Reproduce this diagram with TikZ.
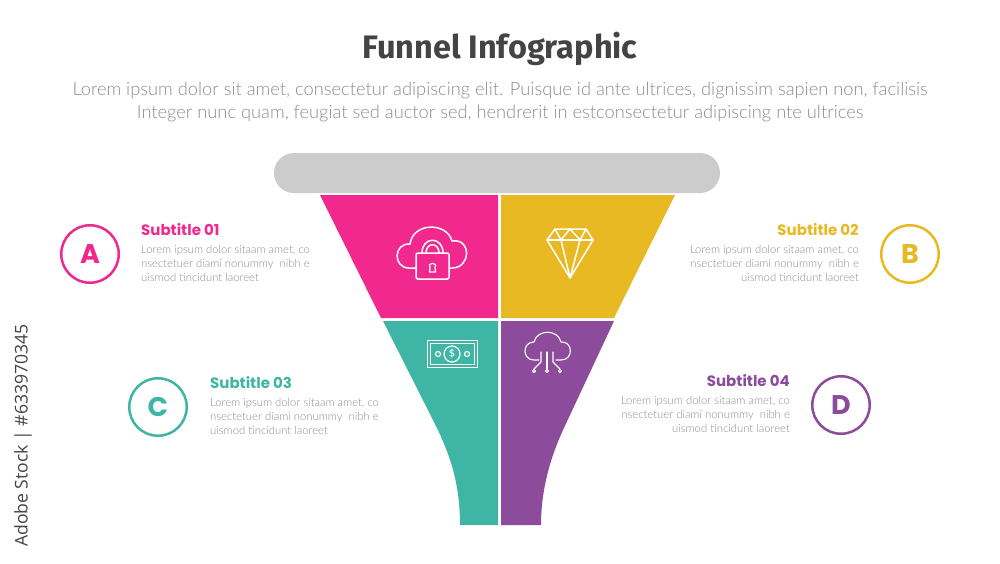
\documentclass[tikz,border=0pt]{standalone}
\usepackage{fontspec}
\setmainfont{Lato Light}
\newfontfamily\ttlfont{Fira Sans}
\newfontfamily\subfont{Poppins}
\newfontfamily\markfont{Open Sans}
\usepackage{tikz}
\definecolor{FunnelPink}{RGB}{241,41,142}
\definecolor{FunnelYellow}{RGB}{232,185,35}
\definecolor{FunnelTeal}{RGB}{63,182,165}
\definecolor{FunnelPurple}{RGB}{140,75,155}
\definecolor{BarGray}{RGB}{204,204,204}
\definecolor{TitleGray}{RGB}{68,68,68}
\definecolor{ParaGray}{RGB}{140,140,140}
\definecolor{BodyGray}{RGB}{140,140,140}
\tikzset{
  lettercirc/.style={circle,draw=#1,line width=2.5pt,minimum size=57.5pt,inner sep=0pt,text=#1,font=\subfont\bfseries\fontsize{27}{27}\selectfont},
  subttl/.style={inner sep=0pt,text=#1,font=\subfont\bfseries\fontsize{15}{15}\selectfont},
  bodytxt/.style={inner sep=0pt,text=BodyGray,font=\fontsize{11.27}{14}\selectfont},
  icon/.style={draw=white,line width=1.5pt,line join=round,line cap=round}
}
\begin{document}
\begin{tikzpicture}[x=1pt,y=-1pt]
\useasboundingbox[fill=white] (0,0) rectangle (1000,563);
\node[font=\ttlfont\bfseries\fontsize{32.5}{32.5}\selectfont,text=TitleGray,inner sep=0pt](title) at (500,49) {Funnel Infographic};
\node[font=\fontsize{18.27}{23}\selectfont,text=ParaGray,inner sep=0pt,align=center](intro) at (500,102) {Lorem ipsum dolor sit amet, consectetur adipiscing elit. Puisque id ante ultrices, dignissim sapien non, facilisis\\Integer nunc quam, feugiat sed auctor sed, hendrerit in estconsectetur adipiscing nte ultrices};
% funnel
\fill[BarGray,rounded corners=19.9pt] (274,153) rectangle (720,193);
\fill[FunnelPink] (320,195) -- (498,195) -- (498,318) -- (381,318) -- cycle;
\fill[FunnelYellow] (501,195) -- (675,195) -- (614,318) -- (501,318) -- cycle;
\fill[FunnelTeal] (383,321) -- (498,321) -- (498,525) -- (460,525) .. controls (460,480) and (448,452) .. (438,430) -- cycle;
\fill[FunnelPurple] (501,321) -- (614,321) -- (563,430) .. controls (553,452) and (541,485) .. (541,525) -- (501,525) -- cycle;
% letters and texts
\foreach \lt/\x/\y/\col in {A/90/254/FunnelPink,B/910/254/FunnelYellow,C/158/407/FunnelTeal,D/841/405/FunnelPurple} {
  \node[lettercirc=\col](circ\lt) at (\x,\y) {\lt};
}
\foreach \n/\x/\y/\col in {01/141/230/FunnelPink,03/210/383/FunnelTeal} {
  \node[subttl=\col,anchor=west](sub\n) at (\x,\y) {Subtitle \n};
  \node[bodytxt,anchor=north west,align=left](txt\n) at (\x,\y+15.5) {Lorem ipsum dolor sitaam amet, co\\nsectetuer diami nonummy~ nibh e\\uismod tincidunt laoreet};
}
\foreach \n/\x/\y/\col in {02/859/230/FunnelYellow,04/790/381/FunnelPurple} {
  \node[subttl=\col,anchor=east](sub\n) at (\x,\y) {Subtitle \n};
  \node[bodytxt,anchor=north east,align=right](txt\n) at (\x,\y+15.5) {Lorem ipsum dolor sitaam amet, co\\nsectetuer diami nonummy~ nibh e\\uismod tincidunt laoreet};
}
% cloud with lock
\draw[icon] (416,268) -- (409,268) .. controls (393,268) and (393,243) .. (410,244) .. controls (413,222) and (447,222) .. (452,241) .. controls (472,238) and (471,268) .. (452,268) -- (449,268);
\draw[icon,rounded corners=2pt] (416,253) rectangle (449,279);
\draw[icon] (422,253) .. controls (422,236) and (443,236) .. (443,253);
\draw[icon] (426,253) .. controls (426,242) and (439,242) .. (439,253);
\draw[icon,line width=1.2pt] (430,267.5) -- (429.5,272) -- (435.5,272) -- (435,267.5) .. controls (438,262) and (427,262) .. (430,267.5) -- cycle;
% diamond
\draw[icon] (555,229) -- (586,229) -- (593,240) -- (570,278) -- (547,240) -- cycle;
\draw[icon] (547,240) -- (593,240);
\draw[icon] (555,229) -- (561,240) -- (570,229) -- (580,240) -- (586,229);
\draw[icon] (561,240) -- (570,278) -- (580,240);
% banknote
\draw[icon,line width=1pt] (427,340) rectangle (477,367);
\draw[icon,line width=1pt] (430,343) rectangle (474,364);
\draw[icon,line width=1.2pt] (452,354) circle (8);
\draw[icon,line width=1.2pt] (438,354) circle (2.5);
\draw[icon,line width=1.2pt] (467,354) circle (2.5);
\node[text=white,inner sep=0pt,font=\markfont\fontsize{11}{11}\selectfont](dollar) at (452,354) {\$};
% cloud with circuit
\draw[icon,line width=1.1pt] (539,360) -- (534,360) .. controls (522,360) and (522,342) .. (534,342) .. controls (537,329) and (558,329) .. (561,342) .. controls (573,341) and (574,360) .. (561,360) -- (556,360);
\draw[icon,line width=1.1pt] (547,352) -- (547,369);
\draw[icon,line width=1.1pt] (541,352) -- (541,362) -- (534,369);
\draw[icon,line width=1.1pt] (553,352) -- (553,362) -- (560,369);
\foreach \x in {534,547,560} {
  \draw[icon,line width=1.1pt] (\x,371) circle (1.6);
}
% stock mark
\node[rotate=90,text=TitleGray,inner sep=0pt,font=\markfont\fontsize{17.6}{17.6}\selectfont](stock) at (23,435.5) {Adobe Stock | \#633970345};
\end{tikzpicture}
\end{document}
